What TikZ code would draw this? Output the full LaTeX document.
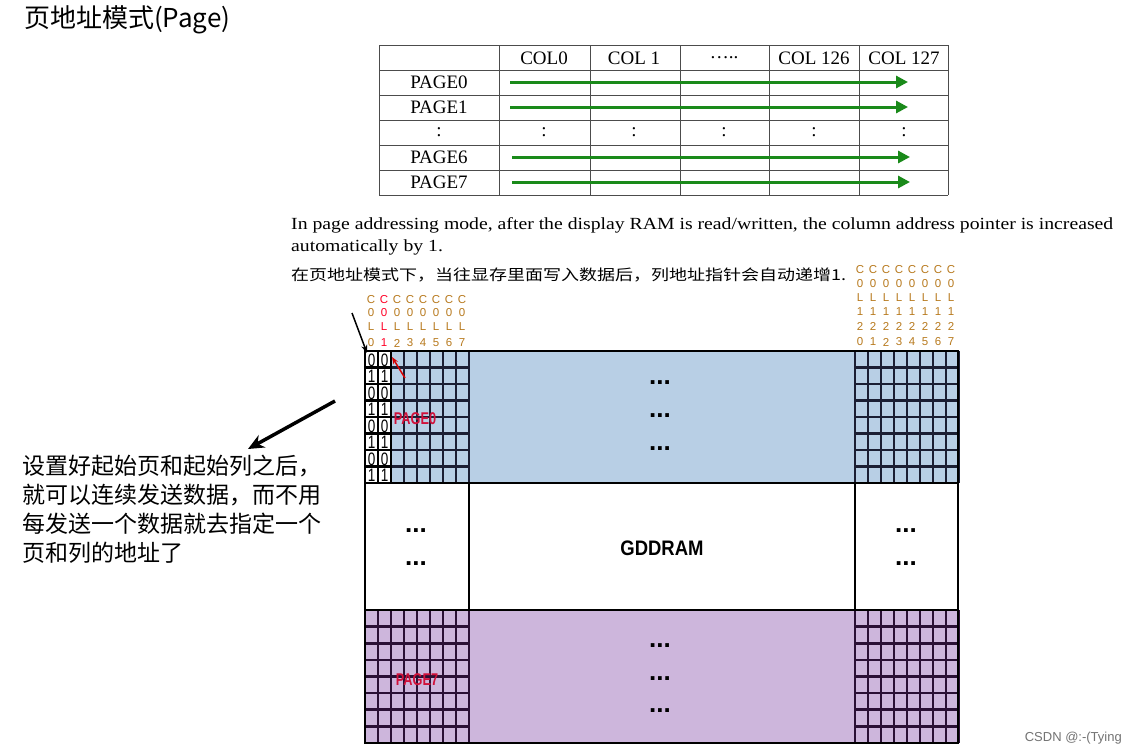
\documentclass[tikz,border=0pt]{standalone}
\usepackage{fontspec}
\setmainfont{Liberation Serif}
\setsansfont{Liberation Sans}
\newfontfamily\cjk{Noto Sans CJK SC}
\usetikzlibrary{arrows.meta}
\definecolor{bandblue}{HTML}{B8CFE5}
\definecolor{bandpurple}{HTML}{CDB6DC}
\definecolor{gridc}{HTML}{1B1E33}
\definecolor{gridp}{HTML}{2A1035}
\definecolor{lblc}{HTML}{B87A1E}
\definecolor{arrg}{HTML}{1A8A1A}
\definecolor{pagered}{HTML}{D0103A}
\tikzset{
  tline/.style={draw=black!70,line width=0.9pt},
  garrow/.style={draw=arrg,line width=3pt,-{Triangle[length=12pt,width=12pt]}},
  ttext/.style={font=\fontsize{19}{19}\selectfont,inner sep=0pt},
  clbl/.style={font=\sffamily\fontsize{11.5}{11.5}\selectfont,text=lblc,inner sep=0pt},
  dots/.style={font=\sffamily\bfseries\fontsize{26}{26}\selectfont,inner sep=0pt},
  bit/.style={font=\sffamily\fontsize{18}{18}\selectfont,inner sep=0pt,xscale=0.75},
  pg/.style={font=\sffamily\bfseries\fontsize{17}{17}\selectfont,text=pagered,xscale=0.75,inner sep=0pt},
  cjkt/.style={font=\cjk\fontsize{23}{29}\selectfont,inner sep=0pt,align=left,anchor=north west},
}
\begin{document}
\begin{tikzpicture}[x=1pt,y=-1pt]
\useasboundingbox (0,0) rectangle (1135,755);
\fill[white] (0,0) rectangle (1135,755);
% title
\node[font=\cjk\fontsize{26}{26}\selectfont,anchor=west,inner sep=0pt] (title) at (24,20) {页地址模式(Page)};
% table
\foreach \x in {379,499,590,680,769,859,948} \draw[tline] (\x,45) -- (\x,195);
\foreach \y in {45,70,95,120,145,170,195} \draw[tline] (379,\y) -- (948,\y);
\node[ttext] (c0) at (544,58) {COL0};
\node[ttext] (c1) at (634,58) {COL 1};
\node[ttext] (c2) at (724,58) {…..};
\node[ttext] (c3) at (814,58) {COL 126};
\node[ttext] (c4) at (904,58) {COL 127};
\node[ttext] (p0) at (439,82) {PAGE0};
\node[ttext] (p1) at (439,107) {PAGE1};
\node[ttext] (p6) at (439,157) {PAGE6};
\node[ttext] (p7) at (439,182) {PAGE7};
\foreach \x in {439,544,634,724,814,904} \node[ttext] at (\x,132) {:};
\coordinate (a0s) at (510,82); \coordinate (a0e) at (908,82);
\coordinate (a1s) at (510,107); \coordinate (a1e) at (908,107);
\coordinate (a6s) at (512,157); \coordinate (a6e) at (910,157);
\coordinate (a7s) at (512,182); \coordinate (a7e) at (910,182);
\draw[garrow] (a0s) -- (a0e);
\draw[garrow] (a1s) -- (a1e);
\draw[garrow] (a6s) -- (a6e);
\draw[garrow] (a7s) -- (a7e);
% paragraph
\node[font=\fontsize{17}{17}\selectfont,anchor=west,inner sep=0pt,xscale=1.16] (para1) at (291,225)
 {In page addressing mode, after the display RAM is read/written, the column address pointer is increased};
\node[font=\fontsize{17}{17}\selectfont,anchor=west,inner sep=0pt,xscale=1.16] (para2) at (291,247) {automatically by 1.};
\node[font=\cjk\fontsize{15}{15}\selectfont,anchor=west,inner sep=0pt,xscale=1.2] (cn) at (291,275) {在页地址模式下，当往显存里面写入数据后，列地址指针会自动递增1.};
% bands
\fill[bandblue] (365,351) rectangle (958,483);
\fill[bandpurple] (365,610) rectangle (958,743);
% grids
\foreach \x in {365,855} {
  \foreach \i in {0,...,8} {
    \draw[gridc,line width=2.6pt] (\x+13*\i,351) -- (\x+13*\i,483);
    \draw[gridp,line width=2.6pt] (\x+13*\i,610) -- (\x+13*\i,743);
    \draw[gridc,line width=2.6pt] (\x,351+16.5*\i) -- (\x+104,351+16.5*\i);
    \draw[gridp,line width=2.6pt] (\x,610+16.6*\i) -- (\x+104,610+16.6*\i);
  }
}
% bit cells
\foreach \r in {0,...,7} {
  \pgfmathtruncatemacro{\b}{mod(\r,2)}
  \fill[white] (366,352+16.5*\r) rectangle (390,366+16.5*\r);
  \draw[black,line width=2.6pt] (365,351+16.5*\r) rectangle (391,367.5+16.5*\r);
  \draw[black,line width=2.6pt] (378,351+16.5*\r) -- (378,367.5+16.5*\r);
  \node[bit] at (371.5,360+16.5*\r) {\b};
  \node[bit] at (384.5,360+16.5*\r) {\b};
}
% outline
\draw[black,line width=2.4pt] (365,351) rectangle (958,743);
\draw[black,line width=2.4pt] (365,483) -- (958,483);
\draw[black,line width=2.4pt] (365,610) -- (958,610);
\draw[black,line width=2.4pt] (469,483) -- (469,610);
\draw[black,line width=2.4pt] (855,483) -- (855,610);
% column labels left
\foreach \i in {0,...,7} {
  \pgfmathsetmacro{\cx}{371+13*\i}
  \ifnum\i=1 \def\cc{red!85!magenta}\else\def\cc{lblc}\fi
  \node[clbl,text=\cc] at (\cx,300) {C};
  \node[clbl,text=\cc] at (\cx,313) {0};
  \node[clbl,text=\cc] at (\cx,327) {L};
  \node[clbl,text=\cc] at (\cx,343) {\i};
}
% column labels right
\foreach \i in {0,...,7} {
  \pgfmathsetmacro{\cx}{860+13*\i}
  \node[clbl] at (\cx,270) {C};
  \node[clbl] at (\cx,284) {0};
  \node[clbl] at (\cx,298) {L};
  \node[clbl] at (\cx,312) {1};
  \node[clbl] at (\cx,326) {2};
  \node[clbl] at (\cx,342) {\i};
}
% labels inside
\node[pg] (pg0) at (415,419) {PAGE0};
\node[pg] (pg7) at (417,680) {PAGE7};
\node[font=\sffamily\fontsize{21}{21}\selectfont,xscale=0.88,inner sep=0pt] (gd) at (662,548) {\textbf{GDDRAM}};
\foreach \y in {383,416,449} \node[dots] at (660,\y) {...};
\foreach \y in {646,679,711} \node[dots] at (660,\y) {...};
\node[dots] at (416,531) {...}; \node[dots] at (416,564) {...};
\node[dots] at (906,531) {...}; \node[dots] at (906,564) {...};
% arrows
\coordinate (k1s) at (352,313); \coordinate (k1e) at (367,353);
\draw[black,line width=1.5pt,-{Stealth[length=8pt]}] (k1s) -- (k1e);
\coordinate (r1s) at (405,378); \coordinate (r1e) at (392,357);
\draw[red!85!black,line width=1.5pt,-{Stealth[length=7pt]}] (r1s) -- (r1e);
\coordinate (b1s) at (335,401); \coordinate (b1e) at (248,449);
\draw[black,line width=3.5pt,-{Stealth[length=16pt,width=14pt]}] (b1s) -- (b1e);
% left note
\node[cjkt] (note) at (22,455) {设置好起始页和起始列之后，\\就可以连续发送数据，而不用\\每发送一个数据就去指定一个\\页和列的地址了};
\node[font=\sffamily\fontsize{13}{13}\selectfont,text=black!55,anchor=east,inner sep=0pt] (wm) at (1122,738) {CSDN @:-(Tying};
\end{tikzpicture}
\end{document}
